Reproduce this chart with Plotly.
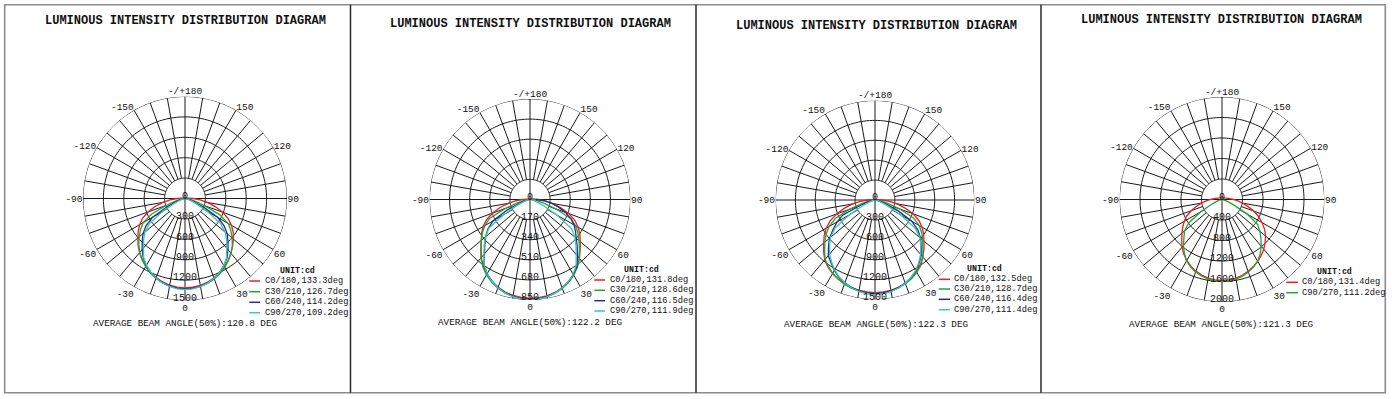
import numpy as np
import plotly.graph_objects as go

W, H = 1392, 399
FONT = "Liberation Mono, Courier New, monospace"

TITLE = "LUMINOUS INTENSITY DISTRIBUTION DIAGRAM"
ANGLE_POS = [0, 30, 60, 90, 120, 150, 180, 210, 240, 270, 300, 330]
ANGLE_TEXT = ["0", "30", "60", "90", "120", "150", "-/+180", "-150", "-120", "-90", "-60", "-30"]

GAMMA = list(range(-90, 95, 5))
GAMMA_UP = [-180, -150, -120, -100] + GAMMA + [100, 120, 150, 180]

COLORS = ["#ee1c25", "#1fa637", "#2b2b8f", "#3cc7b8"]

# ---------------- Panel 1 ----------------
P1_TICKS = [0, 300, 600, 900, 1200, 1500]
P1_NAMES = ["C0/180,133.3deg", "C30/210,126.7deg", "C60/240,114.2deg", "C90/270,109.2deg"]
P1_AVG = "120.8"
P1_C0 = [10, 10, 15, 35, 115, 220, 330, 455, 580, 690, 770, 840, 905, 975, 1040, 1098, 1150, 1198, 1238,
         1270, 1295, 1308, 1315, 1310, 1298, 1275, 1245, 1205, 1160, 1110, 1050, 990, 930, 865, 790, 700,
         590, 460, 335, 225, 120, 40, 15, 10, 10]
P1_C30 = [15, 38, 75, 145, 290, 540, 710, 800, 880, 962, 1035, 1100, 1158, 1208, 1250, 1283, 1308, 1324,
          1330, 1326, 1312, 1290, 1258, 1218, 1170, 1115, 1052, 985, 905, 825, 735, 560, 300, 150, 80, 40, 15]
P1_C60 = [8, 18, 38, 75, 145, 290, 550, 700, 805, 890, 980, 1070, 1138, 1196, 1243, 1280, 1306, 1323,
          1330, 1325, 1310, 1284, 1248, 1200, 1142, 1075, 985, 895, 810, 705, 560, 300, 150, 80, 40, 20, 10]
P1_C90 = [5, 12, 24, 48, 88, 175, 370, 635, 770, 860, 950, 1060, 1135, 1196, 1246, 1285, 1314, 1333,
          1340, 1334, 1316, 1288, 1250, 1200, 1140, 1065, 955, 865, 775, 640, 380, 180, 90, 50, 25, 12, 5]

# ---------------- Panel 2 ----------------
P2_TICKS = [0, 170, 340, 510, 680, 850]
P2_NAMES = ["C0/180,131.8deg", "C30/210,128.6deg", "C60/240,116.5deg", "C90/270,111.9deg"]
P2_AVG = "122.2"
P2_C0 = [5, 5, 10, 22, 65, 120, 185, 262, 340, 405, 458, 500, 537, 585, 642, 688, 728, 762, 790, 810,
         824, 832, 835, 833, 827, 814, 795, 768, 735, 695, 650, 600, 555, 515, 470, 420, 350, 270, 190,
         125, 70, 25, 10, 5, 5]
P2_C30 = [12, 28, 58, 115, 220, 375, 440, 492, 538, 590, 645, 696, 736, 770, 797, 818, 833, 842,
          845, 842, 834, 820, 800, 773, 740, 700, 650, 592, 540, 495, 445, 385, 230, 120, 60, 30, 12]
P2_C60 = [5, 13, 26, 52, 105, 220, 360, 435, 490, 540, 600, 680, 725, 762, 792, 815, 832, 842,
          845, 842, 833, 818, 796, 768, 733, 690, 628, 565, 510, 470, 430, 380, 320, 250, 190, 130, 50]
P2_C90 = [4, 9, 17, 34, 64, 128, 255, 425, 492, 548, 605, 676, 725, 763, 794, 818, 835, 846,
          850, 846, 836, 820, 797, 767, 730, 680, 608, 550, 495, 430, 260, 130, 65, 35, 18, 9, 4]

# ---------------- Panel 3 ----------------
P3_TICKS = [0, 300, 600, 900, 1200, 1500]
P3_NAMES = ["C0/180,132.5deg", "C30/210,128.7deg", "C60/240,116.4deg", "C90/270,111.4deg"]
P3_AVG = "122.3"
P3_C0 = [10, 10, 15, 35, 115, 225, 345, 475, 615, 745, 850, 935, 1010, 1095, 1180, 1235, 1280, 1315,
         1345, 1368, 1383, 1392, 1395, 1392, 1382, 1362, 1335, 1300, 1250, 1190, 1120, 1045, 965, 895,
         820, 730, 610, 470, 340, 220, 110, 35, 15, 10, 10]
P3_C30 = [20, 50, 100, 205, 410, 660, 800, 900, 985, 1075, 1170, 1225, 1275, 1316, 1350, 1376, 1395, 1406,
          1410, 1406, 1394, 1374, 1345, 1308, 1262, 1205, 1125, 1020, 940, 860, 770, 640, 400, 200, 100, 50, 20]
P3_C60 = [8, 20, 45, 100, 230, 540, 660, 770, 895, 990, 1095, 1155, 1225, 1285, 1330, 1365, 1390, 1405,
          1410, 1405, 1390, 1366, 1332, 1288, 1232, 1160, 1085, 985, 900, 790, 640, 380, 180, 90, 45, 20, 8]
P3_C90 = [5, 12, 24, 48, 98, 205, 440, 730, 878, 968, 1062, 1142, 1218, 1280, 1330, 1370, 1400, 1419,
          1425, 1419, 1402, 1374, 1336, 1287, 1226, 1150, 1070, 975, 885, 740, 450, 210, 100, 50, 25, 12, 5]

# ---------------- Panel 4 ----------------
P4_TICKS = [0, 400, 800, 1200, 1600, 2000]
P4_NAMES = ["C0/180,131.4deg", "C90/270,111.2deg"]
P4_AVG = "121.3"
P4_C0 = [33, 40, 60, 130, 225, 310, 410, 520, 640, 760, 850, 935, 1020, 1110, 1215, 1300, 1374, 1436,
         1487, 1527, 1556, 1574, 1580, 1574, 1558, 1530, 1492, 1444, 1395, 1335, 1268, 1190, 1110, 1015,
         900, 790, 660, 520, 410, 310, 225, 130, 60, 40, 33]
P4_C90 = [7, 14, 28, 55, 110, 230, 470, 790, 955, 1050, 1170, 1280, 1385, 1452, 1505, 1546, 1576, 1595,
          1600, 1595, 1577, 1548, 1508, 1455, 1390, 1300, 1190, 1075, 965, 850, 560, 250, 120, 60, 30, 15, 8]

PANELS = [
    dict(ticks=P1_TICKS, names=P1_NAMES, avg=P1_AVG,
         series=[(GAMMA_UP, P1_C0), (GAMMA, P1_C30), (GAMMA, P1_C60), (GAMMA, P1_C90)],
         cx=185, cy=198.5, R=102, tx=185, ty=20.7, ax=184.7, ay=323.3,
         ux=277.7, uy=270, lx=263.3, sw=(249.3, 260), ly=[281, 291.7, 302.3, 312.7]),
    dict(ticks=P2_TICKS, names=P2_NAMES, avg=P2_AVG,
         series=[(GAMMA_UP, P2_C0), (GAMMA, P2_C30), (GAMMA, P2_C60), (GAMMA, P2_C90)],
         cx=530, cy=199.5, R=100.5, tx=530.8, ty=24, ax=530.3, ay=322.3,
         ux=621.7, uy=269, lx=607.7, sw=(594.3, 605), ly=[280, 290.3, 300.7, 311]),
    dict(ticks=P3_TICKS, names=P3_NAMES, avg=P3_AVG,
         series=[(GAMMA_UP, P3_C0), (GAMMA, P3_C30), (GAMMA, P3_C60), (GAMMA, P3_C90)],
         cx=875, cy=200, R=99.5, tx=876, ty=25.7, ax=875.7, ay=324,
         ux=965.3, uy=268.3, lx=952, sw=(938.7, 950), ly=[279.3, 289, 299.3, 309.7]),
    dict(ticks=P4_TICKS, names=P4_NAMES, avg=P4_AVG,
         series=[(GAMMA_UP, P4_C0), (GAMMA, P4_C90)],
         cx=1222, cy=199.5, R=102.5, tx=1221.5, ty=20, ax=1221, ay=324,
         ux=1314.7, uy=271.7, lx=1300.3, sw=(1286.3, 1298), ly=[282.3, 292.7]),
]

fig = go.Figure()
annotations = []
shapes = []
GRID = "#1a1a1a"


def px(x):
    return x / W


def py(y):
    return 1 - y / H


for i, p in enumerate(PANELS):
    sub = "polar" if i == 0 else f"polar{i + 1}"
    ticks = p["ticks"]
    rmax = ticks[-1]
    step = ticks[1]

    # rings
    circ = np.arange(0, 362, 2)
    th, rr = [], []
    for t in ticks[1:]:
        th += list(circ) + [None]
        rr += [t] * len(circ) + [None]
    # spokes every 10 degrees starting from inner ring
    for a in range(0, 360, 10):
        if a % 90 == 0:
            continue
        th += [a, a, None]
        rr += [step, rmax, None]
    # main axes through centre
    th += [180, 0, 0, None, 90, 270, 270]
    rr += [rmax, 0, rmax, None, rmax, 0, rmax]
    fig.add_trace(go.Scatterpolar(theta=th, r=rr, mode="lines", subplot=sub,
                                  line=dict(color=GRID, width=1), hoverinfo="skip",
                                  showlegend=False, connectgaps=False))

    # data curves
    for k, (g, vals) in enumerate(p["series"]):
        fig.add_trace(go.Scatterpolar(theta=g, r=vals, mode="lines", subplot=sub,
                                      name=p["names"][k], showlegend=False,
                                      line=dict(color=COLORS[k], width=1.3)))

    # radial labels
    off = 0.022 * rmax
    lab_th, lab_r = [], []
    for t in ticks:
        v = t - off
        if v < 0:
            lab_th.append(180)
            lab_r.append(-v)
        else:
            lab_th.append(0)
            lab_r.append(v)
    fig.add_trace(go.Scatterpolar(theta=lab_th, r=lab_r, mode="text", subplot=sub,
                                  text=[str(t) for t in ticks], textposition="middle center",
                                  textfont=dict(family=FONT, size=10, color="#111"),
                                  showlegend=False, hoverinfo="skip", cliponaxis=False))

    cx, cy, R = p["cx"], p["cy"], p["R"]
    fig.update_layout(**{sub: dict(
        domain=dict(x=[px(cx - R), px(cx + R)], y=[py(cy + R), py(cy - R)]),
        bgcolor="rgba(0,0,0,0)",
        angularaxis=dict(rotation=270, direction="counterclockwise", showgrid=False,
                         showline=False, showticklabels=True, ticks="",
                         tickmode="array", tickvals=ANGLE_POS, ticktext=ANGLE_TEXT,
                         tickfont=dict(family=FONT, size=9.5, color="#111")),
        radialaxis=dict(range=[0, rmax], showgrid=False, showline=False,
                        showticklabels=False, ticks=""),
    )})

    annotations.append(dict(x=px(p["tx"]), y=py(p["ty"]), xref="paper", yref="paper",
                            text="<b>" + TITLE + "</b>", showarrow=False, xanchor="center",
                            yanchor="middle", font=dict(family=FONT, size=12, color="#111")))
    annotations.append(dict(x=px(p["ax"]), y=py(p["ay"]), xref="paper", yref="paper",
                            text="AVERAGE BEAM ANGLE(50%):" + p["avg"] + " DEG", showarrow=False,
                            xanchor="center", yanchor="middle",
                            font=dict(family=FONT, size=9.3, color="#111")))
    annotations.append(dict(x=px(p["ux"]), y=py(p["uy"]), xref="paper", yref="paper",
                            text="<b>UNIT:cd</b>", showarrow=False, xanchor="left",
                            yanchor="middle", font=dict(family=FONT, size=8.3, color="#111")))
    for k, name in enumerate(p["names"]):
        yy = p["ly"][k]
        annotations.append(dict(x=px(p["lx"]), y=py(yy), xref="paper", yref="paper",
                                text=name, showarrow=False, xanchor="left", yanchor="middle",
                                font=dict(family=FONT, size=8.7, color="#111")))
        shapes.append(dict(type="line", xref="paper", yref="paper",
                           x0=px(p["sw"][0]), x1=px(p["sw"][1]), y0=py(yy), y1=py(yy),
                           line=dict(color=COLORS[k], width=1.5)))

# frame and dividers
shapes.append(dict(type="rect", xref="paper", yref="paper", x0=px(4.7), x1=px(1385.3),
                   y0=py(392.7), y1=py(4.7), line=dict(color="#8c8c8c", width=1.6)))
for xd in [350.5, 696, 1041]:
    shapes.append(dict(type="line", xref="paper", yref="paper", x0=px(xd), x1=px(xd),
                       y0=py(392.7), y1=py(4.7), line=dict(color="#2a2a2a", width=1.5)))

fig.update_layout(width=W, height=H, margin=dict(l=0, r=0, t=0, b=0),
                  paper_bgcolor="white", plot_bgcolor="white",
                  annotations=annotations, shapes=shapes, showlegend=False)

fig.write_html("out.html", post_script="document.body.style.margin='0';",
               config={"displayModeBar": False})
